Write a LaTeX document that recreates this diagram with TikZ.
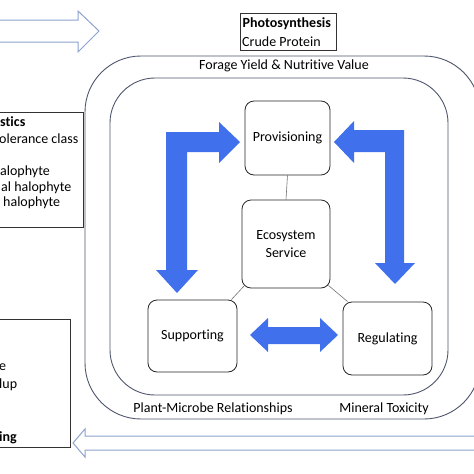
\documentclass[tikz,border=0pt]{standalone}
\usepackage{fontspec}
\setmainfont{Carlito}[Ligatures=NoCommon]
\usetikzlibrary{calc}
\definecolor{blk}{RGB}{64,112,235}
\definecolor{ringc}{RGB}{78,86,108}
\definecolor{hollowc}{RGB}{140,162,208}
\begin{document}
\begin{tikzpicture}[x=1pt,y=-1pt,
  lbl/.style={inner sep=0pt, font=\fontsize{14}{16}\selectfont},
  blbl/.style={inner sep=0pt, font=\fontsize{14}{16}\selectfont\bfseries},
  svbox/.style={draw=black!85, line width=0.8pt, rounded corners=9pt, fill=white, inner sep=0pt},
  ring/.style={draw=ringc, line width=0.9pt},
  hollow/.style={draw=hollowc, line width=1pt},
  link/.style={draw=black!55, line width=0.6pt},
  leftbox/.style={draw=black!80, line width=0.9pt}]
\useasboundingbox (0,0) rectangle (474,474);
\clip (0,0) rectangle (474,474);
% hollow arrows
\draw[hollow] (-5,20) -- (78,20) -- (78,11) -- (99,31) -- (78,52) -- (78,42) -- (-5,42);
\draw[hollow] (480,436) -- (85,436) -- (85,429) -- (73,443) -- (85,457) -- (85,450) -- (480,450);
% rings
\draw[ring, rounded corners=56pt] (85,56) rectangle (480,419);
\draw[ring, rounded corners=45pt] (110,78) rectangle (448,395);
% photosynthesis box
\draw[leftbox, line width=0.8pt] (240,13) rectangle (336,50);
\node[blbl, anchor=west] (ph) at (242.5,24) {Photosynthesis};
\node[lbl, anchor=west] (cp) at (242,42) {Crude Protein};
\node[lbl] (fy) at (284,66) {Forage Yield \& Nutritive Value};
\node[lbl] (pm) at (213,409) {Plant-Microbe Relationships};
\node[lbl] (mt) at (384,409) {Mineral Toxicity};
% left boxes
\draw[leftbox] (-5,112) rectangle (83,227);
\node[blbl, anchor=west] (l1) at (0,122) {stics};
\node[lbl, anchor=west] (l2) at (-1,139) {olerance class};
\node[lbl, anchor=west] (l3) at (0,172) {alophyte};
\node[lbl, anchor=west] (l4) at (1,188) {al halophyte};
\node[lbl, anchor=west] (l5) at (3,203) {halophyte};
\draw[leftbox] (-5,319) rectangle (70,447);
\node[lbl, anchor=west] (m1) at (-1,367) {e};
\node[lbl, anchor=west] (m2) at (-1,385) {lup};
\node[blbl, anchor=west] (m3) at (-1,438) {ing};
% service boxes
\node[svbox, minimum width=85pt, minimum height=74pt] (prov) at (287.5,138) {};
\node[lbl] at (prov) {Provisioning};
\node[svbox, minimum width=88pt, minimum height=88pt] (eco) at (286,244) {};
\node[lbl, align=center, font=\fontsize{14}{18}\selectfont] at (eco) {Ecosystem\\Service};
\node[svbox, minimum width=89pt, minimum height=72pt] (sup) at (192.5,336) {};
\node[lbl] at (sup) {Supporting};
\node[svbox, minimum width=89pt, minimum height=73pt] (reg) at (387.5,338.5) {};
\node[lbl] at (reg) {Regulating};
% links
\draw[link] (prov.south) -- (eco.north);
\draw[link] ($(eco.south west)+(3,-3)$) -- ($(sup.north east)+(-6,0)$);
\draw[link] ($(eco.south east)+(-2,-3)$) -- ($(reg.north west)+(5,0)$);
% block arrows
\fill[blk] (240,142) -- (219,163) -- (219,152) -- (187,152) -- (187,270) -- (198,270) -- (177,293) -- (156,270) -- (166,270) -- (166,132) -- (219,132) -- (219,122) -- cycle;
\fill[blk] (334,142) -- (354,121) -- (354,130) -- (404,130) -- (404,263) -- (415,263) -- (395,284) -- (375,263) -- (385,263) -- (385,152) -- (354,152) -- (354,163) -- cycle;
\fill[blk] (250,335) -- (268,318) -- (268,327) -- (320,327) -- (320,318) -- (338,335) -- (320,352) -- (320,344) -- (268,344) -- (268,352) -- cycle;
\end{tikzpicture}
\end{document}
